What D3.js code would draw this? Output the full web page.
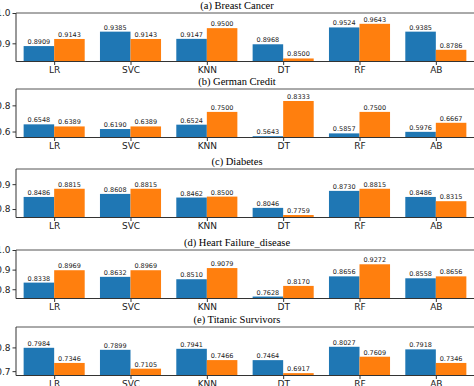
<!DOCTYPE html>
<html>
<head>
<meta charset="utf-8">
<script src="https://cdn.jsdelivr.net/npm/d3@7"></script>
<style>
  body { margin: 0; background: #fff; }
  svg { display: block; }
</style>
</head>
<body>
<svg width="474" height="386"></svg>
<script>
// models on the x axis
var models = ["LR", "SVC", "KNN", "DT", "RF", "AB"];

// one entry per dataset panel
var titles = ["(a) Breast Cancer", "(b) German Credit", "(c) Diabetes",
              "(d) Heart Failure_disease", "(e) Titanic Survivors"];

// blue bars
var blueVals = [
  [0.8909, 0.9385, 0.9147, 0.8968, 0.9524, 0.9385],
  [0.6548, 0.6190, 0.6524, 0.5643, 0.5857, 0.5976],
  [0.8486, 0.8608, 0.8462, 0.8046, 0.8730, 0.8486],
  [0.8338, 0.8632, 0.8510, 0.7628, 0.8656, 0.8558],
  [0.7984, 0.7899, 0.7941, 0.7464, 0.8027, 0.7918]
];
// orange bars
var orangeVals = [
  [0.9143, 0.9143, 0.9500, 0.8500, 0.9643, 0.8786],
  [0.6389, 0.6389, 0.7500, 0.8333, 0.7500, 0.6667],
  [0.8815, 0.8815, 0.8500, 0.7759, 0.8815, 0.8315],
  [0.8969, 0.8969, 0.9079, 0.8170, 0.9272, 0.8656],
  [0.7346, 0.7105, 0.7466, 0.6917, 0.7609, 0.7346]
];

// y limits and ticks
var yLims = [[0.84, 1.0], [0.5543, 0.925], [0.7659, 0.961], [0.7528, 1.0], [0.6817, 0.886]];
var yTicks = [[0.9, 1.0], [0.6, 0.8], [0.8, 0.9], [0.8, 0.9, 1.0], [0.7, 0.8]];

var svg = d3.select("svg");
var left = 16, right = 474;
var axTops = [13, 89, 169, 250, 327];
var axH = 48.5;

var blue = "#1f77b4", orange = "#ff7f0e";

var x = d3.scaleLinear().domain([-0.5, 5.5]).range([left, right]);
var step = x(1) - x(0);
var bw = step * 0.4;

titles.forEach(function(t, p) {
  var top = axTops[p], bottom = top + axH;
  var y = d3.scaleLinear().domain(yLims[p]).range([bottom, top]);
  var g = svg.append("g");

  g.append("text")
    .attr("x", 237).attr("y", top - 4)
    .attr("text-anchor", "middle")
    .style("font-family", "'Liberation Serif', 'DejaVu Serif', serif")
    .style("font-size", "10.5px")
    .text(t);

  // bars
  var base = yLims[p][0];
  [blueVals[p], orangeVals[p]].forEach(function(vals, s) {
    var col = s === 0 ? blue : orange;
    g.selectAll(null).data(vals).enter().append("rect")
      .attr("x", function(d, i) { return x(i) - bw + s * bw; })
      .attr("y", function(d) { return y(d); })
      .attr("width", bw)
      .attr("height", function(d) { return y(base) - y(d); })
      .attr("fill", col);

    g.selectAll(null).data(vals).enter().append("text")
      .attr("x", function(d, i) { return x(i) - bw / 2 + s * bw; })
      .attr("y", function(d) { return y(d) - 2; })
      .attr("text-anchor", "middle")
      .style("font-family", "'DejaVu Sans', sans-serif")
      .style("font-size", "6.5px")
      .style("fill", "#222")
      .text(function(d) { return d.toFixed(4); });
  });

  // spines
  g.append("line").attr("x1", left).attr("x2", right).attr("y1", top).attr("y2", top)
    .style("stroke", "#555").style("stroke-width", 1);
  g.append("line").attr("x1", left).attr("x2", right).attr("y1", bottom).attr("y2", bottom)
    .style("stroke", "#333").style("stroke-width", 1);
  g.append("line").attr("x1", left).attr("x2", left).attr("y1", top).attr("y2", bottom)
    .style("stroke", "#333").style("stroke-width", 1);

  // y axis
  var ya = g.append("g").attr("transform", "translate(" + left + ",0)")
    .call(d3.axisLeft(y).tickValues(yTicks[p]).tickFormat(d3.format(".1f")).tickSize(3.5).tickPadding(2));
  ya.select(".domain").remove();
  ya.selectAll("text").style("font-family", "'DejaVu Sans', sans-serif").style("font-size", "9px").style("fill", "#222");
  ya.selectAll("line").style("stroke", "#333");

  // x axis
  var xa = g.append("g").attr("transform", "translate(0," + bottom + ")")
    .call(d3.axisBottom(x).tickValues(d3.range(models.length)).tickFormat(function(i) { return models[i]; }).tickSize(3.5).tickPadding(1.5));
  xa.select(".domain").remove();
  xa.selectAll("text").style("font-family", "'DejaVu Sans', sans-serif").style("font-size", "9px").style("fill", "#222");
  xa.selectAll("line").style("stroke", "#333");
});
</script>
</body>
</html>
